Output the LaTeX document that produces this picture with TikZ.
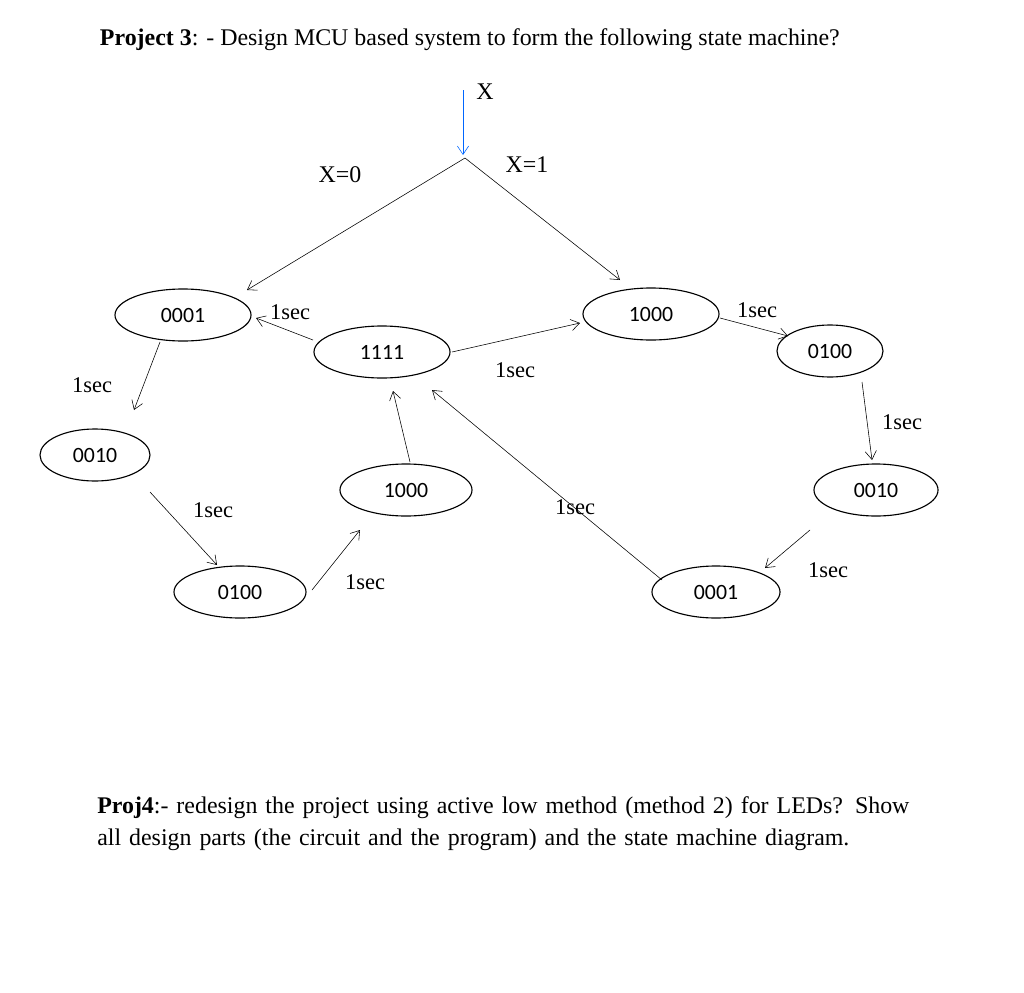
\documentclass[tikz,border=0pt]{standalone}
\usepackage{fontspec}
\setmainfont{Liberation Serif}
\newfontfamily\nodefont{Carlito}
\usetikzlibrary{shapes.geometric,arrows.meta}
\begin{document}
\begin{tikzpicture}[x=0.025cm,y=-0.025cm,
  st/.style={draw,ellipse,thick,minimum width=#1,minimum height=1.3cm,font=\nodefont\fontsize{15.5}{18}\selectfont,inner sep=0pt},
  st/.default=3.3cm,
  lbl/.style={font=\fontsize{16}{19}\selectfont,inner sep=1pt},
  ar/.style={-{Straight Barb[length=6pt,width=8pt]},thin}]
\useasboundingbox (0,0) rectangle (1024,992);
\node[anchor=west,font=\fontsize{17}{20}\selectfont] (title) at (95,40) {\textbf{Project 3}: - Design MCU based system to form the following state machine?};
\node[font=\fontsize{17}{20}\selectfont] (X) at (485,92) {X};
\node[st=3.4cm] (a) at (183,315) {0001};
\node[st=3.4cm] (b) at (382,352) {1111};
\node[st=3.4cm] (c) at (651,314) {1000};
\node[st=2.65cm] (d) at (830,351) {0100};
\node[st=2.75cm] (e) at (95,455) {0010};
\node[st=3.3cm] (f) at (406,490) {1000};
\node[st=3.1cm] (g) at (876,490) {0010};
\node[st=3.3cm] (h) at (240,592) {0100};
\node[st=3.2cm] (i) at (716,592) {0001};
\coordinate (top) at (465,158);
\coordinate (xs) at (463,90);
\draw[-{Straight Barb[length=6pt,width=8pt]},color=blue!60!cyan] (xs) -- (463,155);
\draw[ar] (top) -- (247,290);
\draw[ar] (top) -- (620,280);
\node[lbl,font=\fontsize{17}{20}\selectfont] at (340,175) {X=0};
\node[lbl,font=\fontsize{17}{20}\selectfont] at (527,165) {X=1};
\draw[ar] (313,340) -- (256,318);
\node[lbl] at (290,312) {1sec};
\draw[ar] (452,352) -- (580,323);
\node[lbl] at (515,370) {1sec};
\draw[ar] (720,318) -- (788,336);
\node[lbl] at (757,310) {1sec};
\draw[ar] (862,382) -- (872,460);
\node[lbl] at (902,422) {1sec};
\draw[ar] (810,530) -- (765,568);
\node[lbl] at (828,570) {1sec};
\draw[ar] (662,580) -- (432,390);
\node[lbl] at (575,507) {1sec};
\draw[ar] (160,342) -- (134,410);
\node[lbl] at (92,385) {1sec};
\draw[ar] (150,492) -- (217,565);
\node[lbl] at (213,510) {1sec};
\draw[ar] (312,590) -- (360,530);
\node[lbl] at (365,582) {1sec};
\draw[ar] (410,462) -- (393,391);
\node[anchor=north west,align=left,font=\fontsize{17}{22.8}\selectfont,text width=22cm,inner sep=0pt] (p4) at (97,796) {\textbf{Proj4}:- redesign the project using active low method (method 2) for LEDs? Show\\all design parts (the circuit and the program) and the state machine diagram.};
\end{tikzpicture}
\end{document}
